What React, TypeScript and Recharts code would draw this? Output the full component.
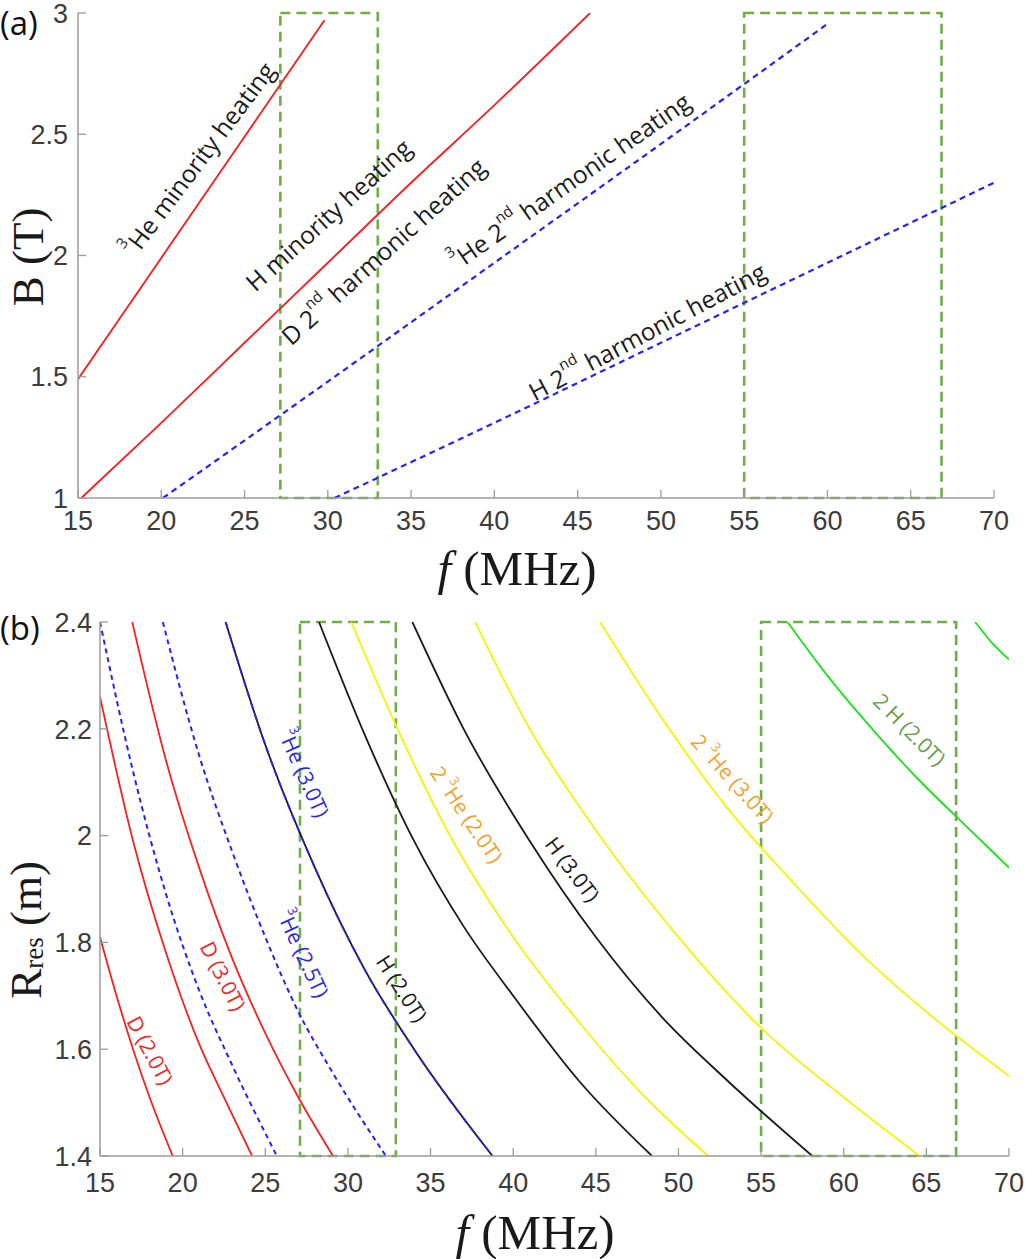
import React from 'react';
import { LineChart, Line, XAxis, YAxis, ReferenceArea, ReferenceDot } from 'recharts';

// ---------- shared ticks ----------
const freqTicks = [15, 20, 25, 30, 35, 40, 45, 50, 55, 60, 65, 70];
const fieldTicks = [1, 1.5, 2, 2.5, 3];
const radiusTicks = [1.4, 1.6, 1.8, 2, 2.2, 2.4];

// ---------- panel (a): B vs f ----------
const he3MinorityF = [15, 20, 25, 29.8];
const he3MinorityB = [1.49, 1.99, 2.49, 2.97];
const hMinorityF = [15.2, 20, 25, 30, 35, 40, 45.75];
const hMinorityB = [1.0, 1.31, 1.64, 1.97, 2.3, 2.62, 3.0];
const he3SecondF = [20.1, 30, 40, 50, 60.1];
const he3SecondB = [1.0, 1.48, 1.97, 2.46, 2.96];
const hSecondF = [30.4, 40, 50, 60, 70];
const hSecondB = [1.0, 1.31, 1.64, 1.97, 2.3];

// frequency windows (MHz)
const windowLowA = [27.15, 33.0];
const windowHighA = [55.0, 66.85];
const windowLowB = [27.1, 32.9];
const windowHighB = [55.0, 66.8];

// ---------- panel (b): R_res vs f ----------
const d20F = [15, 16, 17, 18, 19.4];
const d20R = [1.81, 1.7, 1.6, 1.51, 1.4];
const d25F = [15, 17, 19, 21, 22.5, 24.2];
const d25R = [2.26, 1.99, 1.78, 1.61, 1.51, 1.4];
const d30F = [16.95, 19, 21, 23, 25, 27, 29.1];
const d30R = [2.4, 2.14, 1.94, 1.77, 1.63, 1.51, 1.4];
const he20F = [15, 17, 19, 21, 23, 25.7];
const he20R = [2.4, 2.12, 1.89, 1.71, 1.57, 1.4];
const he25F = [18.8, 21, 23, 25, 27, 29, 32.3];
const he25R = [2.4, 2.15, 1.97, 1.81, 1.67, 1.56, 1.4];
const he30F = [22.6, 25, 28, 31, 34, 38.75];
const he30R = [2.4, 2.17, 1.94, 1.75, 1.6, 1.4];
const h25F = [28.25, 31, 34, 37, 40, 44, 48.4];
const h25R = [2.4, 2.19, 1.99, 1.83, 1.7, 1.54, 1.4];
const h30F = [33.9, 37, 41, 45, 49, 53, 58.1];
const h30R = [2.4, 2.2, 1.99, 1.81, 1.66, 1.54, 1.4];
const he2x20F = [30.2, 33, 36, 40, 44, 48, 51.8];
const he2x20R = [2.4, 2.2, 2.01, 1.81, 1.65, 1.51, 1.4];
const he2x25F = [37.7, 41, 45, 50, 55, 60, 64.6];
const he2x25R = [2.4, 2.2, 2.01, 1.81, 1.64, 1.51, 1.4];
const he2x30F = [45.25, 49, 53, 57, 61, 65, 70];
const he2x30R = [2.4, 2.22, 2.05, 1.91, 1.78, 1.67, 1.55];
const h2x20F = [56.6, 59, 62, 65, 67, 70];
const h2x20R = [2.4, 2.3, 2.19, 2.09, 2.03, 1.94];
const h2x25F = [67.95, 69, 70];
const h2x25R = [2.4, 2.36, 2.33];

const zip = (fs: number[], vs: number[]) => fs.map((f, i) => ({ f, v: vs[i] }));

// ---------- styles ----------
const AX = '#9b9b9b';
const TICKTXT = '#3c3c3c';
const RED = '#f42222';
const BLUE = '#2424f2';
const YELLOW = '#f4f40c';
const GREEN = '#24e024';
const BLACK = '#1a1a1a';
const WIN = '#70AD47';
const tickFont = 'Liberation Sans, Arial, sans-serif';
const labelFont = 'Open Sans, Lato, sans-serif';
const serifFont = 'Liberation Serif, Times New Roman, serif';
const TICKSIZE = 27;

const fmt = (v: number) => String(v);

const BottomTick = (p: any) => (
  <g>
    <line x1={p.x} y1={p.y} x2={p.x} y2={p.y - 8} stroke={AX} strokeWidth={1.3} />
    <text x={p.x} y={p.y + p.off} textAnchor="middle" fill={TICKTXT} fontSize={TICKSIZE} fontFamily={tickFont}>
      {fmt(p.payload.value)}
    </text>
  </g>
);
const TopTick = (p: any) => (
  <line x1={p.x} y1={p.y} x2={p.x} y2={p.y + 8} stroke={AX} strokeWidth={1.3} />
);
const LeftTick = (p: any) => (
  <g>
    <line x1={p.x} y1={p.y} x2={p.x + 8} y2={p.y} stroke={AX} strokeWidth={1.3} />
    <text x={p.x - p.gap} y={p.y} dy="0.36em" textAnchor="end" fill={TICKTXT} fontSize={TICKSIZE} fontFamily={tickFont}>
      {fmt(p.payload.value)}
    </text>
  </g>
);
const RightTick = (p: any) => (
  <line x1={p.x} y1={p.y} x2={p.x - 8} y2={p.y} stroke={AX} strokeWidth={1.3} />
);

type Part = { t: string; sup?: boolean };

const makeLabel = (parts: Part[], angle: number, size: number, color: string) => (p: any) => {
  const { cx, cy } = p;
  const shift = size * 0.42;
  let raised = false;
  const spans = parts.map((pt, i) => {
    let dy = 0;
    if (pt.sup && !raised) { dy = -shift; raised = true; }
    else if (!pt.sup && raised) { dy = shift; raised = false; }
    return (
      <tspan key={i} dy={dy} fontSize={pt.sup ? size * 0.62 : size}>{pt.t}</tspan>
    );
  });
  return (
    <text x={cx} y={cy} transform={`rotate(${angle} ${cx} ${cy})`} textAnchor="middle"
      dominantBaseline="central" fill={color} fontSize={size} fontFamily={labelFont}>
      {spans}
    </text>
  );
};

// annotation anchors (data coordinates) for panel (a)
const notesA = [
  { f: 22.2, v: 2.4, a: -53, parts: [{ t: '3', sup: true }, { t: 'He minority heating' }] },
  { f: 30.0, v: 2.17, a: -42, parts: [{ t: 'H minority heating' }] },
  { f: 33.3, v: 2.02, a: -42, parts: [{ t: 'D 2' }, { t: 'nd', sup: true }, { t: ' harmonic heating' }] },
  { f: 44.5, v: 2.31, a: -35, parts: [{ t: '3', sup: true }, { t: 'He 2' }, { t: 'nd', sup: true }, { t: ' harmonic heating' }] },
  { f: 49.15, v: 1.69, a: -28, parts: [{ t: 'H 2' }, { t: 'nd', sup: true }, { t: ' harmonic heating' }] },
];

// annotation anchors (data coordinates) for panel (b)
const notesB = [
  { f: 27.36, v: 2.117, a: 66, c: '#2a2ae0', parts: [{ t: '3', sup: true }, { t: 'He (3.0T)' }] },
  { f: 27.3, v: 1.779, a: 65, c: '#2a2ae0', parts: [{ t: '3', sup: true }, { t: 'He (2.5T)' }] },
  { f: 22.46, v: 1.737, a: 63, c: '#f02828', parts: [{ t: 'D (3.0T)' }] },
  { f: 18.05, v: 1.598, a: 62, c: '#f02828', parts: [{ t: 'D (2.0T)' }] },
  { f: 33.28, v: 1.714, a: 57, c: '#1a1a1a', parts: [{ t: 'H (2.0T)' }] },
  { f: 37.2, v: 2.04, a: 56, c: '#f2a22c', parts: [{ t: '2 ' }, { t: '3', sup: true }, { t: 'He (2.0T)' }] },
  { f: 43.6, v: 1.937, a: 53, c: '#1a1a1a', parts: [{ t: 'H (3.0T)' }] },
  { f: 53.3, v: 2.107, a: 48, c: '#f2a22c', parts: [{ t: '2 ' }, { t: '3', sup: true }, { t: 'He (3.0T)' }] },
  { f: 64.0, v: 2.199, a: 45, c: '#6b9b4b', parts: [{ t: '2 H (2.0T)' }] },
];

const axisLine = { stroke: AX, strokeWidth: 1.5 };

const frameAxes = (yDomain: number[], yTicks: number[], yWidth: number, xOff: number, gap: number) => [
  <XAxis key="xb" xAxisId={0} dataKey="f" type="number" domain={[15, 70]} ticks={freqTicks} interval={0}
    height={50} tickSize={0} tickMargin={0} allowDataOverflow axisLine={axisLine} tickLine={false}
    tick={(p: any) => <BottomTick {...p} off={xOff} />} />,
  <XAxis key="xt" xAxisId="top" orientation="top" dataKey="f" type="number" domain={[15, 70]} ticks={freqTicks}
    interval={0} height={0} tickSize={0} tickMargin={0} allowDataOverflow axisLine={axisLine} tickLine={false}
    tick={(p: any) => <TopTick {...p} />} />,
  <YAxis key="yl" yAxisId={0} type="number" domain={yDomain} ticks={yTicks} interval={0} width={yWidth}
    tickSize={0} tickMargin={0} allowDataOverflow axisLine={axisLine} tickLine={false}
    tick={(p: any) => <LeftTick {...p} gap={gap} />} />,
  <YAxis key="yr" yAxisId="right" orientation="right" type="number" domain={yDomain} ticks={yTicks} interval={0}
    width={0} tickSize={0} tickMargin={0} allowDataOverflow axisLine={axisLine} tickLine={false}
    tick={(p: any) => <RightTick {...p} />} />,
];

const windowRect = (key: string, xs: number[], y1: number, y2: number) => (
  <ReferenceArea key={key} x1={xs[0]} x2={xs[1]} y1={y1} y2={y2} fill="none" fillOpacity={0}
    stroke={WIN} strokeWidth={2.6} strokeDasharray="10 6" ifOverflow="visible" />
);

const curve = (key: string, fs: number[], vs: number[], color: string, width: number, dash?: string) => (
  <Line key={key} data={zip(fs, vs)} dataKey="v" type="monotone" stroke={color} strokeWidth={width}
    strokeDasharray={dash} dot={false} activeDot={false} isAnimationActive={false} />
);

export default function App() {
  return (
    <div style={{ position: 'absolute', left: 0, top: 0, width: 1025, height: 1259, background: '#fff', overflow: 'hidden' }}>
      <div style={{ position: 'absolute', left: 0, top: 0 }}>
        <LineChart width={1025} height={548} margin={{ top: 13, right: 31, bottom: 0, left: 0 }}>
          {frameAxes([1, 3], fieldTicks, 78, 32, 10)}
          {windowRect('wl', windowLowA, 1, 3)}
          {windowRect('wh', windowHighA, 1, 3)}
          {curve('he3min', he3MinorityF, he3MinorityB, RED, 1.9)}
          {curve('hmin', hMinorityF, hMinorityB, RED, 1.9)}
          {curve('he3sec', he3SecondF, he3SecondB, BLUE, 2.2, '6 4.5')}
          {curve('hsec', hSecondF, hSecondB, BLUE, 2.2, '6 4.5')}
          {notesA.map((n, i) => (
            <ReferenceDot key={'na' + i} x={n.f} y={n.v} r={1} ifOverflow="visible"
              shape={makeLabel(n.parts, n.a, 24.5, '#1c1c1c')} />
          ))}
        </LineChart>
      </div>
      <div style={{ position: 'absolute', left: 0, top: 600 }}>
        <LineChart width={1025} height={606} margin={{ top: 22, right: 16, bottom: 0, left: 0 }}>
          {frameAxes([1.4, 2.4], radiusTicks, 100, 36, 8)}
          {curve('d20', d20F, d20R, RED, 1.8)}
          {curve('d25', d25F, d25R, RED, 1.8)}
          {curve('d30', d30F, d30R, RED, 1.8)}
          {curve('he20', he20F, he20R, BLUE, 2, '5 4')}
          {curve('he25', he25F, he25R, BLUE, 2, '5 4')}
          {curve('h20', he30F, he30R, BLACK, 1.8)}
          {curve('he30', he30F, he30R, BLUE, 1.8, '7 5')}
          {curve('h25', h25F, h25R, BLACK, 1.8)}
          {curve('h30', h30F, h30R, BLACK, 1.8)}
          {curve('he2x20', he2x20F, he2x20R, YELLOW, 1.9)}
          {curve('he2x25', he2x25F, he2x25R, YELLOW, 1.9)}
          {curve('he2x30', he2x30F, he2x30R, YELLOW, 1.9)}
          {curve('h2x20', h2x20F, h2x20R, GREEN, 1.9)}
          {curve('h2x25', h2x25F, h2x25R, GREEN, 1.9)}
          {windowRect('wlb', windowLowB, 1.4, 2.4)}
          {windowRect('whb', windowHighB, 1.4, 2.4)}
          {notesB.map((n, i) => (
            <ReferenceDot key={'nb' + i} x={n.f} y={n.v} r={1} ifOverflow="visible"
              shape={makeLabel(n.parts, n.a, 21, n.c)} />
          ))}
        </LineChart>
      </div>
      <svg width={1025} height={1259} style={{ position: 'absolute', left: 0, top: 0, pointerEvents: 'none' }}>
        <text x={0} y={35} fontFamily={labelFont} fontSize={33} fill="#111">(a)</text>
        <text x={0} y={640} fontFamily={labelFont} fontSize={33} fill="#111">(b)</text>
        <text transform="translate(28,257) rotate(-90)" textAnchor="middle" dominantBaseline="central"
          fontFamily={serifFont} fontSize={45} fill="#1a1a1a">B (T)</text>
        <text x={517} y={568} textAnchor="middle" dominantBaseline="central" fontFamily={serifFont} fontSize={49} fill="#1a1a1a">
          <tspan fontStyle="italic">f</tspan> (MHz)
        </text>
        <text transform="translate(26,930) rotate(-90)" textAnchor="middle" dominantBaseline="central"
          fontFamily={serifFont} fontSize={45} fill="#1a1a1a">
          R<tspan fontSize={27} dy={8}>res</tspan><tspan dy={-8}> (m)</tspan>
        </text>
        <text x={535} y={1232} textAnchor="middle" dominantBaseline="central" fontFamily={serifFont} fontSize={49} fill="#1a1a1a">
          <tspan fontStyle="italic">f</tspan> (MHz)
        </text>
      </svg>
    </div>
  );
}
